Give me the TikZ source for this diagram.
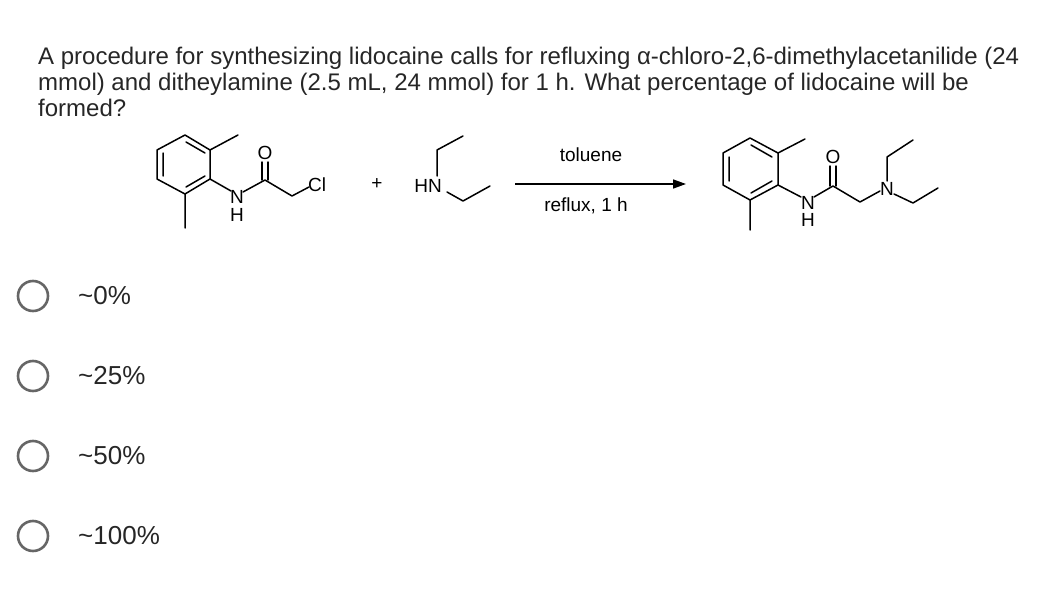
\documentclass[tikz,border=0pt]{standalone}
\usepackage{fontspec}
\setmainfont{Liberation Sans}
\usetikzlibrary{arrows.meta}
\begin{document}
\begin{tikzpicture}[x=1pt,y=-1pt,
  bond/.style={line width=1.5pt,line cap=round,line join=round},
  atom/.style={inner sep=0pt,font=\fontsize{19}{19}\selectfont},
  qtext/.style={anchor=north west,align=left,inner sep=0pt,text=black!85,font=\fontsize{24}{26}\selectfont},
  radio/.style={circle,draw=black!60,line width=2.6pt,minimum size=30pt,inner sep=0pt},
  opt/.style={anchor=west,inner sep=0pt,text=black!85,font=\fontsize{26}{26}\selectfont}]
\useasboundingbox (0,0) rectangle (1044,602);
\node[qtext] (q) at (38,47) {A procedure for synthesizing lidocaine calls for refluxing α-chloro-2,6-dimethylacetanilide (24\\mmol) and ditheylamine (2.5 mL, 24 mmol) for 1 h. What percentage of lidocaine will be\\formed?};
% reactant 1
\draw[bond] (185,135)--(210,150)--(210,179)--(185,194)--(157,179)--(157,150)--cycle;
\draw[bond] (186,142)--(205,153) (205,176)--(186,187) (163,176)--(163,153);
\draw[bond] (210,150)--(238,135) (185,194)--(185,228) (210,179)--(231,191);
\node[atom] (n1) at (237,197) {N};
\node[atom] (h1) at (237,215) {H};
\draw[bond] (243,192)--(265,180)--(292,196)--(309,187);
\draw[bond] (262,180)--(262,162) (268,180)--(268,162);
\node[atom] (o1) at (265,153) {O};
\node[atom,anchor=west] (cl) at (308,185) {Cl};
\node[atom] (plus) at (377,184) {+};
% amine
\node[atom] (hn) at (428,186) {HN};
\draw[bond] (437,176)--(437,150)--(463,136);
\draw[bond] (447,192)--(463,201)--(490,186);
% arrow
\draw[line width=1.6pt,-{Triangle[length=13pt,width=9pt]}] (515,184)--(686,184) coordinate (ae);
\node[atom] (tol) at (591,155) {toluene};
\node[atom] (ref) at (586,206) {reflux, 1 h};
% product
\draw[bond] (750,138)--(778,153)--(778,185)--(750,200)--(723,185)--(723,153)--cycle;
\draw[bond] (751,145)--(772,157) (772,181)--(751,193) (729,181)--(729,157);
\draw[bond] (778,153)--(805,139) (750,200)--(750,230) (778,185)--(801,197);
\node[atom] (n2) at (808,203) {N};
\node[atom] (h2) at (808,220) {H};
\draw[bond] (814,197)--(833,186)--(860,202)--(880,191);
\draw[bond] (830,186)--(830,166) (836,186)--(836,166);
\node[atom] (o2) at (833,157) {O};
\node[atom] (n3) at (887,189) {N};
\draw[bond] (887,181)--(887,157)--(913,140);
\draw[bond] (894,194)--(913,203)--(938,188);
% options
\foreach \y/\t [count=\i] in {296/{\textasciitilde0\%},376/{\textasciitilde25\%},456/{\textasciitilde50\%},536/{\textasciitilde100\%}}{
  \node[radio] (r\i) at (33,\y) {};
  \node[opt] (o\i) at (78,\y) {\t};
}
\end{tikzpicture}
\end{document}
